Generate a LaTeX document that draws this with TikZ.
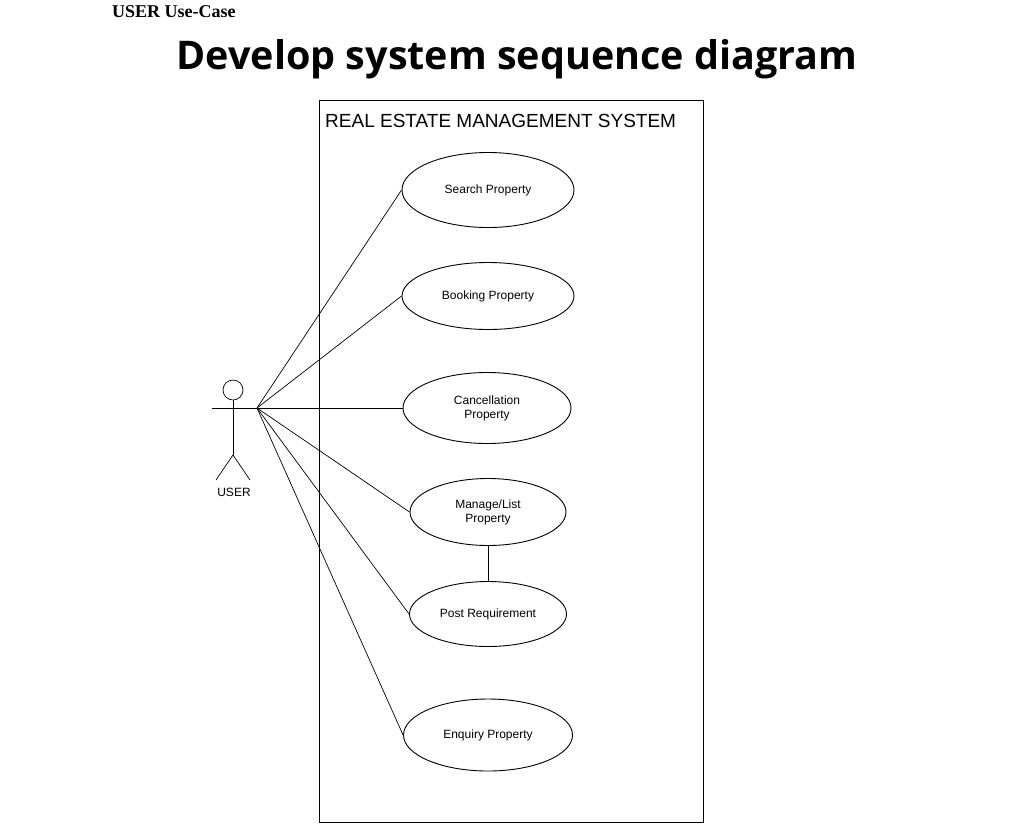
\documentclass[tikz,border=0pt]{standalone}
\usepackage{fontspec}
\usetikzlibrary{shapes.geometric}
\setmainfont{Liberation Sans}
\newfontfamily\titlefont{Open Sans}
\newfontfamily\serifb{Liberation Serif}
\begin{document}
\begin{tikzpicture}[x=1pt,y=-1pt,
  uc/.style={draw,ellipse,line width=0.9pt,font=\fontsize{12}{14}\selectfont,align=center,inner sep=0pt},
  ln/.style={line width=0.7pt}]
\useasboundingbox (0,0) rectangle (1024,839);
\node[anchor=west,font=\serifb\bfseries\fontsize{18}{20}\selectfont,inner sep=0pt] (hdr) at (112,12) {USER Use-Case};
\node[font=\titlefont\bfseries\fontsize{39.5}{44}\selectfont] (title) at (517,59) {Develop system sequence diagram};
\draw[line width=0.9pt] (319,100) rectangle (703,822);
\node[anchor=west,font=\fontsize{19}{21}\selectfont,inner sep=0pt] (sys) at (325,121) {REAL ESTATE MANAGEMENT SYSTEM};
\node[uc,minimum width=172pt,minimum height=75pt] (s) at (488,190) {Search Property};
\node[uc,minimum width=172pt,minimum height=67pt] (b) at (488,296) {Booking Property};
\node[uc,minimum width=168pt,minimum height=71pt] (c) at (487,408) {Cancellation\\Property};
\node[uc,minimum width=156pt,minimum height=67pt] (m) at (488,512) {Manage/List\\Property};
\node[uc,minimum width=157pt,minimum height=65pt] (p) at (488,614) {Post Requirement};
\node[uc,minimum width=169pt,minimum height=72pt] (e) at (488,735) {Enquiry Property};
\draw[ln] (m) -- (p);
% actor
\draw[ln] (233,390) circle (10);
\draw[ln] (233,400) -- (233,455);
\draw[ln] (212,408) -- (258,408);
\draw[ln] (233,455) -- (216,480);
\draw[ln] (233,455) -- (250,480);
\coordinate (a) at (257,408);
\node[font=\fontsize{12}{14}\selectfont] (ul) at (234,492) {USER};
\foreach \t in {s,b,c,m,p,e} \draw[ln] (a) -- (\t.west);
\end{tikzpicture}
\end{document}
